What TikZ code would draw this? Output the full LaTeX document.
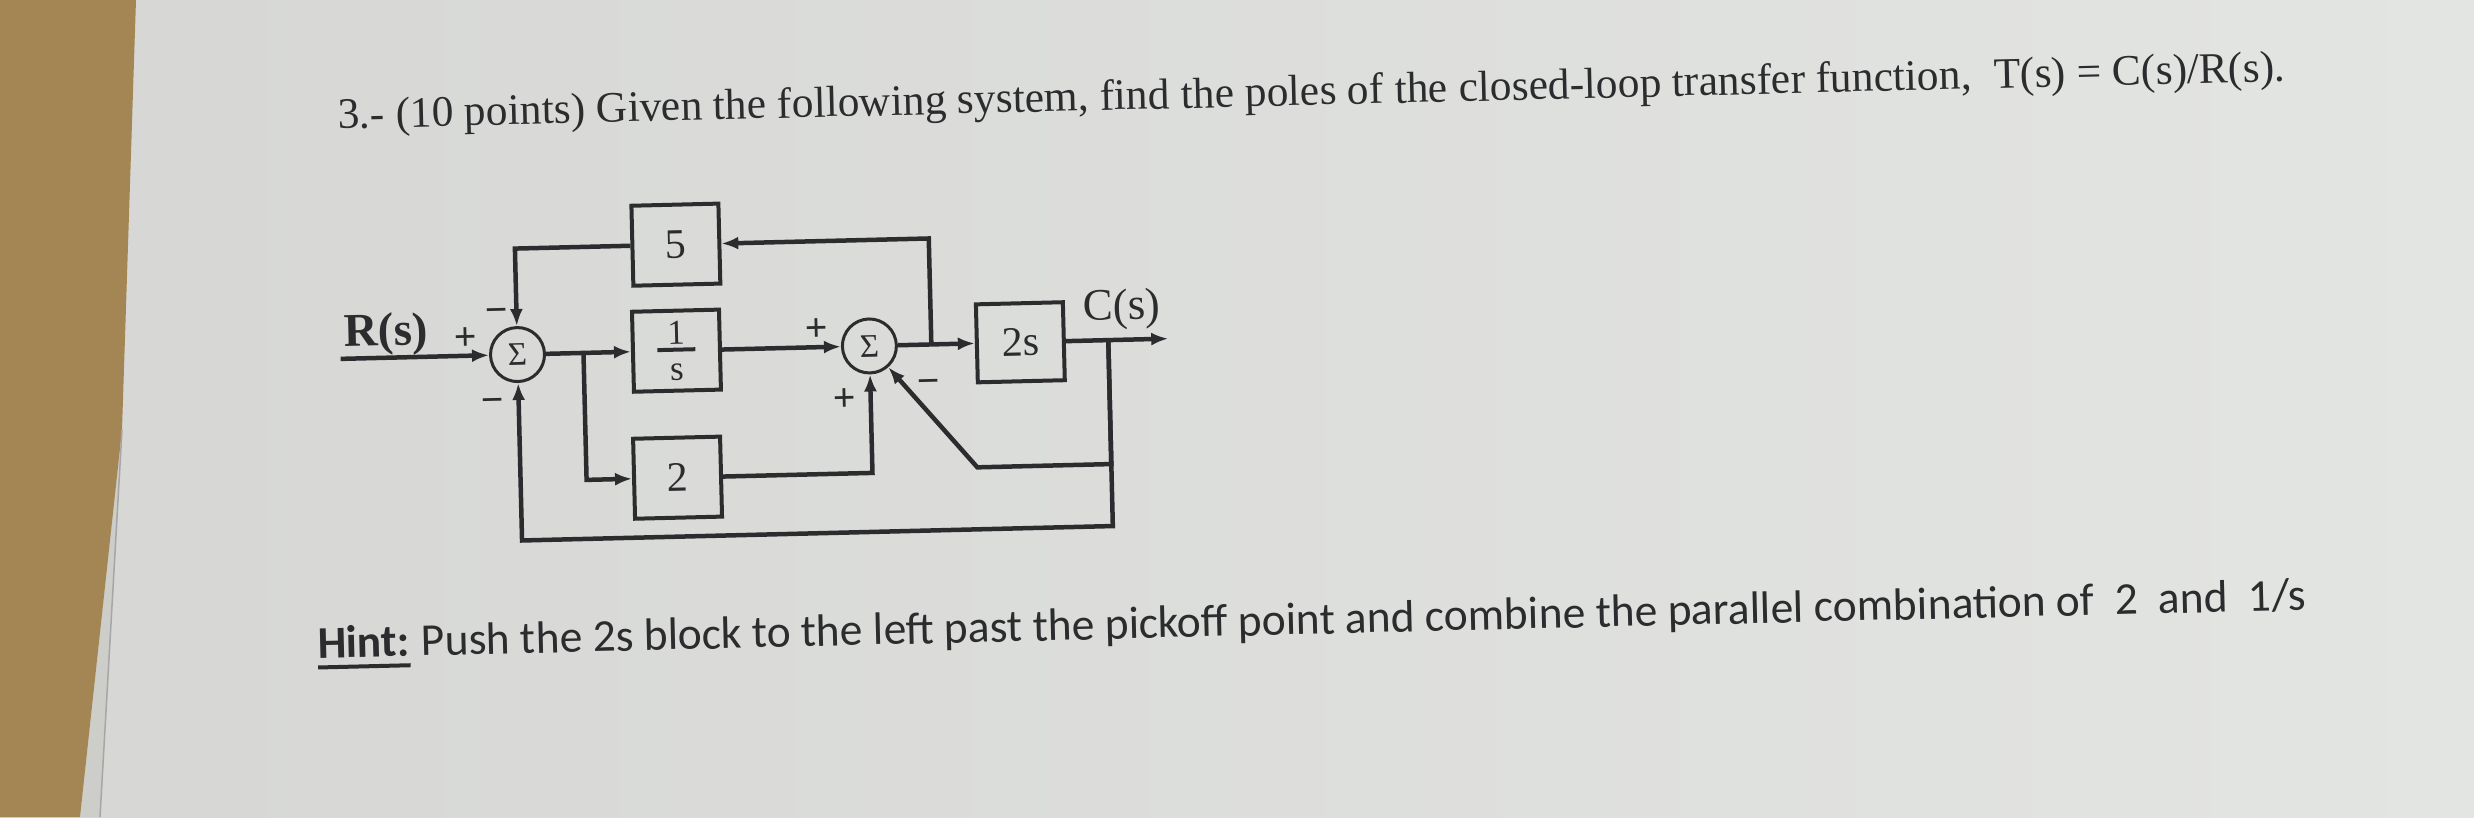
\documentclass[tikz,border=0pt]{standalone}
\usepackage{fontspec}
\setmainfont{Liberation Serif}
\newfontfamily\hintfont{Carlito}
\usetikzlibrary{arrows.meta,positioning}

\begin{document}
\begin{tikzpicture}[x=1pt,y=-1pt]
% Colors define
\definecolor{paperL}{HTML}{D6D7D4}
\definecolor{paperR}{HTML}{E3E5E2}
\definecolor{paperB}{HTML}{CDCECA}
\definecolor{desk}{HTML}{A48655}
\definecolor{ink}{HTML}{2C2C2F}

\tikzset{
  block/.style={draw=ink, line width=4pt, minimum width=87pt, minimum height=80pt,
    inner sep=0pt, text=ink, font=\fontsize{42}{42}\selectfont},
  sumnode/.style={draw=ink, circle, line width=3pt, minimum size=54pt, inner sep=0pt,
    text=ink, font=\fontsize{33}{33}\selectfont},
  wire/.style={ink, line width=4.5pt},
  sig/.style={wire, -{Latex[length=17pt,width=13pt]}},
  sign/.style={text=ink, inner sep=0pt, font=\bfseries\fontsize{40}{40}\selectfont},
  lbl/.style={text=ink, inner sep=0pt, anchor=base, font=\fontsize{45}{45}\selectfont}
}

\useasboundingbox (0,0) rectangle (2474,817);

% Paper and desk
\shade[left color=paperL, right color=paperR] (0,0) rectangle (2474,817);
\fill[paperB] (122,430) -- (100,817) -- (80,817) -- cycle;
\fill[desk] (0,0) -- (136,0) -- (122,430) -- (80,817) -- (0,817) -- cycle;
\draw[gray!70, line width=1.5pt] (122,430) -- (100,817);

\begin{scope}[rotate around={1.4:(1237,408)}, transform shape]

% Question and hint
\node[anchor=base west, text=ink, inner sep=0pt, font=\fontsize{43.5}{43.5}\selectfont] (question) at (345,107)
  {3.- (10 points) Given the following system, find the poles of the closed-loop transfer function,\ \ T(s) = C(s)/R(s).};
\node[anchor=base west, text=ink, inner sep=0pt, font=\hintfont\bfseries\fontsize{45.5}{45.5}\selectfont] (hintkey) at (312,636) {Hint:};
\node[anchor=base west, text=ink, inner sep=0pt, font=\hintfont\fontsize{45.5}{45.5}\selectfont] (hinttext) at ([xshift=11pt]hintkey.base east)
  {Push the 2s block to the left past the pickoff point and combine the parallel combination of\ \ 2\ \ and\ \ 1/s};
\draw[ink, line width=4pt] ([yshift=-9pt]hintkey.base west) -- ([yshift=-9pt]hintkey.base east);

% Blocks and summing junctions
\node[sumnode] (sum1) at (519,337) {Σ};
\node[block] (blk5) at (680,231) {5};
\node[block, align=center, font=\fontsize{35}{36}\selectfont] (blkint) at (678,337) {1\\s};
\node[block] (blkgain) at (676,464) {2};
\node[sumnode] (sum2) at (871,337) {Σ};
\node[block, minimum height=78pt] (blkder) at (1022,337) {2s};

% Fraction bar of 1/s
\draw[ink, line width=4pt] ([xshift=-19pt,yshift=1pt]blkint.center) -- ([xshift=19pt,yshift=1pt]blkint.center);

% Important positions
\coordinate (rin) at (342,337);
\coordinate (cout) at (1170,337);
\coordinate (split1) at (585,337);
\coordinate (split2) at (933,337);
\coordinate (split3) at (1110,337);
\coordinate (corner) at (976,461);
\coordinate (low) at (1110,523);

% Signals
\draw[sig] (rin) -- (sum1);
\draw[sig] (sum1) -- (blkint);
\draw[sig] (split1) |- (blkgain);
\draw[sig] (blkint) -- (sum2);
\draw[sig] (blkgain) -| (sum2);
\draw[sig] (sum2) -- (blkder);
\draw[sig] (split2) |- (blk5);
\draw[sig] (blk5) -| (sum1);
\draw[sig] (blkder) -- (cout);
\draw[sig] (split3) |- (corner) -- (sum2);
\draw[sig] (split3) -- (low) -| (sum1);

% Labels
\node[lbl, font=\bfseries\fontsize{47}{47}\selectfont] (rlabel) at (388,325) {R(s)};
\node[lbl] (clabel) at (1124,317) {C(s)};

% Signs
\node[sign] (s1in) at (467,320) {+};
\node[sign] (s1top) at (499,298) {−};
\node[sign] (s1bot) at (493,388) {−};
\node[sign] (s2in) at (819,320) {+};
\node[sign] (s2bot) at (845,390) {+};
\node[sign] (s2diag) at (929,379) {−};

\end{scope}
\end{tikzpicture}
\end{document}
